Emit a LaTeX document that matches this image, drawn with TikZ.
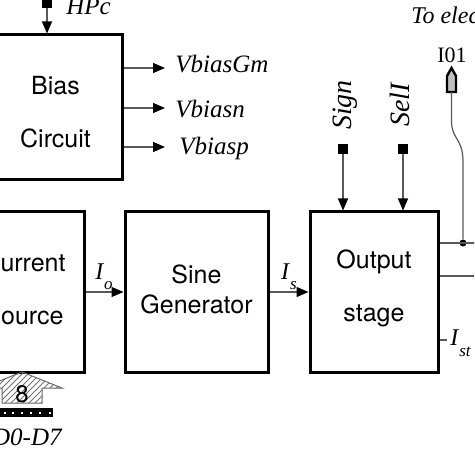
\documentclass[tikz,border=0pt]{standalone}
\usepackage{fontspec}
\setmainfont{Liberation Serif}
\newfontfamily\helv{TeX Gyre Heros}
\usetikzlibrary{arrows.meta,patterns}

% current with a lowered subscript, in text italics
\newcommand{\isub}[2]{\textit{I}\raisebox{#2}{\fontsize{8.5}{9}\selectfont\itshape #1}}

\tikzset{
  block/.style={draw, line width=1.5pt, inner sep=0pt, align=center,
    font=\helv\fontsize{12.5}{26.5}\selectfont},
  wire/.style={draw=black!65, line width=0.6pt},
  sig/.style={wire, -{Triangle[length=6pt,width=5pt,color=black]}},
  pin/.style={fill=black, minimum size=5pt, inner sep=0pt},
  lbl/.style={inner sep=0pt, font=\fontsize{12.5}{14}\selectfont\itshape},
  sublbl/.style={inner sep=0pt, font=\fontsize{12}{13}\selectfont}
}

\begin{document}
\begin{tikzpicture}[x=0.5pt,y=-0.5pt]
  \useasboundingbox (0,0) rectangle (474,474);
  \clip (0,0) rectangle (474,474);

  % blocks
  \node[block, minimum width=66.5pt, minimum height=72.5pt] (bias) at (55.5,107.5) {};
  \node[block, minimum width=60pt, minimum height=80pt] (cur) at (24,292) {};
  \node[block, minimum width=71.5pt, minimum height=80pt] (sine) at (196.5,292) {};
  \node[block, minimum width=64pt, minimum height=80pt] (out) at (374,292) {};
  \node[block, draw=none] (tbias) at (55.5,112) {Bias\\Circuit};
  \node[block, draw=none] (tcur) at (24,288.5) {Current\\Source};
  \node[block, draw=none, font=\helv\fontsize{12.5}{15}\selectfont] (tsine) at (196.5,289) {Sine\\Generator};
  \node[block, draw=none] (tout) at (374,288.5) {Output\\stage};

  % bias input
  \node[pin] (php) at (47,3) {};
  \draw[sig] (php) -- (php |- bias.north);
  \node[lbl, anchor=base west] (hpc) at (66,15) {HPc};

  % bias outputs
  \foreach \yy/\txt/\nm/\xx/\bl in {68/VbiasGm/gm/175/73, 108/Vbiasn/vn/175/118, 147/Vbiasp/vp/179/155} {
    \coordinate (t\nm) at (165,\yy);
    \draw[sig] (bias.east |- t\nm) -- (t\nm);
    \node[lbl, anchor=base west] (l\nm) at (\xx,\bl) {\txt};
  }

  % currents between blocks
  \draw[sig] (cur.east) -- (sine.west);
  \node[sublbl] (lio) at (104,277) {\isub{o}{-4.9pt}};
  \draw[sig] (sine.east) -- (out.west);
  \node[sublbl] (lis) at (289,277) {\isub{s}{-4.9pt}};

  % control pins
  \foreach \nm/\xx/\txt/\bx in {sg/343/Sign/351, sl/403/SelI/409} {
    \node[pin] (p\nm) at (\xx,149) {};
    \draw[sig] (p\nm) -- (p\nm |- out.north);
    \node[lbl, font=\fontsize{14}{15}\selectfont\itshape, rotate=90, anchor=base] (l\nm) at (\bx,105) {\txt};
  }

  % output side
  \node[circle, fill=black, inner sep=0pt, minimum size=3.5pt] (jn) at (463,243) {};
  \coordinate (e1) at (480,243);
  \draw[wire] (out.east |- jn) -- (e1);
  \coordinate (e2) at (480,276);
  \draw[wire] (out.east |- e2) -- (e2);
  \coordinate (ist) at (447,340);
  \draw[wire] (out.east |- ist) -- (ist);
  \node[sublbl, anchor=west] (list) at (450,343) {\isub{st}{-5.7pt}};

  % electrode pad
  \draw[line width=1.2pt, fill=black!25] (447,92) -- (447,76) -- (451.5,68) -- (456,76) -- (456,92) -- cycle;
  \coordinate (pad) at (451.5,92);
  \node[font=\fontsize{11}{12}\selectfont] (lpad) at (452,55) {I01};
  \draw[wire] (pad) -- (451.5,122) .. controls (452,140) and (463,138) .. (463,162) -- (jn);
  \node[lbl, font=\fontsize{12}{13}\selectfont\itshape, anchor=west] (toel) at (411,15) {To elec};

  % data bus
  \draw[black!60, line width=0.5pt, pattern=north east lines, pattern color=black!55]
    (-18,388) -- (22,372) -- (62,388) -- (42,388) -- (42,403) -- (2,403) -- (2,388) -- cycle;
  \node[font=\helv\fontsize{12}{14}\selectfont, inner sep=0pt] (bw) at (22,394) {8};
  \fill (-5,408) rectangle (53,417);
  \foreach \xx in {5,13,22,31,40,50}
    \fill[white] (\xx-0.8,411.5) rectangle (\xx+0.8,413.5);
  \node[lbl, anchor=east] (bus) at (62,437) {D0-D7};
\end{tikzpicture}
\end{document}
